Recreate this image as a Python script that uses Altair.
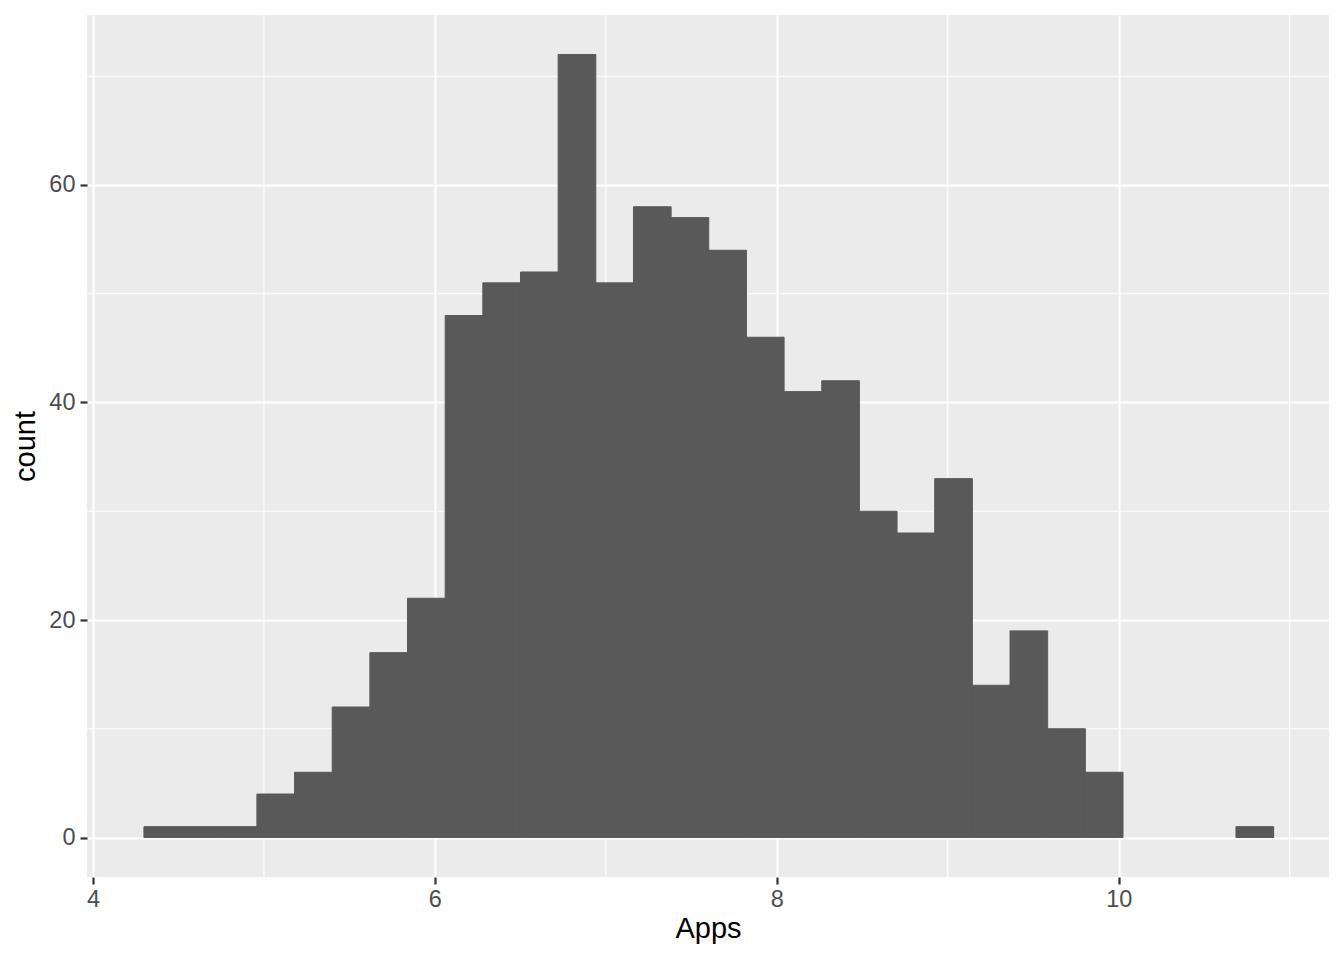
import altair as alt
import pandas as pd

# Histogram of Apps (30 bins)
counts = [1, 1, 1, 4, 6, 12, 17, 22, 48, 51, 52, 72, 51, 58, 57, 54,
          46, 41, 42, 30, 28, 33, 14, 19, 10, 6, 0, 0, 0, 1]
bin_first_left = 4.298
bin_width = 0.22027

x_major = [4, 6, 8, 10]
x_minor = [5, 7, 9, 11]
y_major = [0, 20, 40, 60]
y_minor = [10, 30, 50, 70]

x_domain = [3.965, 11.23]
y_domain = [-3.63, 75.63]

bars = pd.DataFrame({
    "left": [bin_first_left + i * bin_width for i in range(len(counts))],
    "right": [bin_first_left + (i + 1) * bin_width for i in range(len(counts))],
    "count": counts,
})
bars = bars[bars["count"] > 0]

xscale = alt.Scale(domain=x_domain, nice=False, zero=False)
yscale = alt.Scale(domain=y_domain, nice=False, zero=False)

FONT = "Liberation Sans"

x_axis = alt.Axis(
    values=x_major, title="Apps", grid=True, gridColor="white", gridWidth=2.2,
    domain=False, tickColor="#333333", tickWidth=2.2, tickSize=7,
    labelColor="#4D4D4D", labelFontSize=23.5, labelFont=FONT, labelPadding=3,
    titleFont=FONT, titleFontSize=29, titleColor="black", titleFontWeight="normal",
    titleBaseline="alphabetic", titleY=60, format="d", labelFlush=False,
)
y_axis = alt.Axis(
    values=y_major, title="count", grid=True, gridColor="white", gridWidth=2.2,
    domain=False, tickColor="#333333", tickWidth=2.2, tickSize=7,
    labelColor="#4D4D4D", labelFontSize=23.5, labelFont=FONT, labelPadding=5,
    titleFont=FONT, titleFontSize=29, titleColor="black", titleFontWeight="normal",
    titleAngle=270, titleBaseline="alphabetic", titleAlign="center",
    titleX=-53, titleY=431, format="d", labelFlush=False,
)

minor_x = alt.Chart(pd.DataFrame({"v": x_minor})).mark_rule(
    color="white", strokeWidth=1.1
).encode(x=alt.X("v:Q", scale=xscale, axis=x_axis))

minor_y = alt.Chart(pd.DataFrame({"v": y_minor})).mark_rule(
    color="white", strokeWidth=1.1
).encode(y=alt.Y("v:Q", scale=yscale, axis=y_axis))

hist = alt.Chart(bars).mark_rect(
    color="#595959", stroke="#595959", strokeWidth=1.0, opacity=1
).encode(
    x=alt.X("left:Q", scale=xscale, axis=x_axis),
    x2="right:Q",
    y=alt.Y("count:Q", scale=yscale, axis=y_axis),
    y2=alt.datum(0),
)

chart = alt.layer(minor_x, minor_y, hist).properties(
    width=1242, height=862,
    autosize=alt.AutoSizeParams(type="none"),
    padding={"left": 79, "top": 7, "right": 7, "bottom": 75},
    background="white",
).configure_view(fill="#EBEBEB", strokeWidth=0)

chart.save("out.html", embed_options={"renderer": "svg", "actions": False})
